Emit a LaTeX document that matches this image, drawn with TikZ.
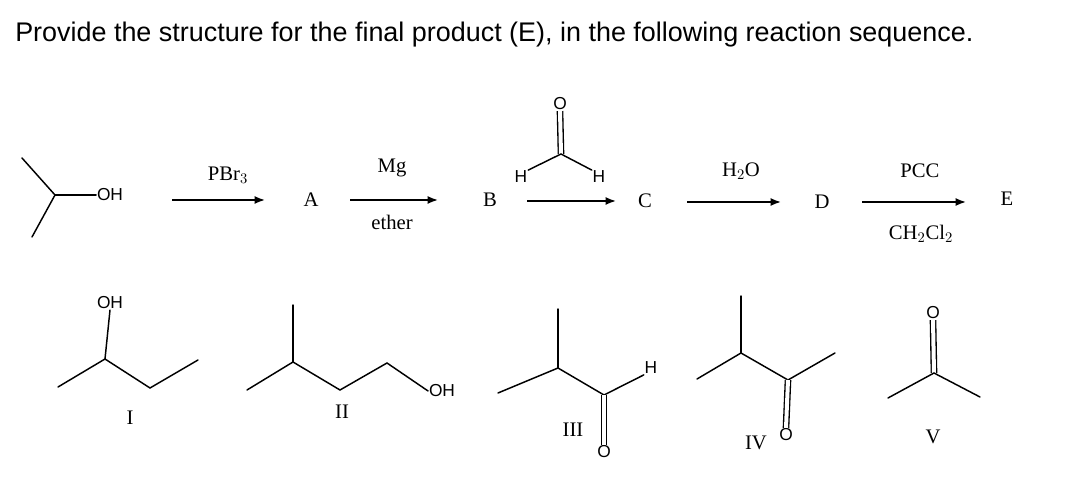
\documentclass[tikz,border=0pt]{standalone}
\usepackage{fontspec}
\setmainfont{Liberation Serif}
\newfontfamily\atomf{Liberation Sans}
\usetikzlibrary{arrows.meta}
\begin{document}
\begin{tikzpicture}[x=0.75pt,y=-0.75pt,
  bond/.style={line width=1.1pt,line cap=round},
  rxn/.style={line width=2.2pt,-{Latex[length=8pt,width=6pt]},shorten >=-1pt},
  atom/.style={inner sep=0.5pt,font=\atomf\fontsize{13}{15}\selectfont},
  lab/.style={inner sep=1pt,font=\fontsize{15.5}{18}\selectfont},
  dbl/.style={double,double distance=3pt,line width=1pt}]
\useasboundingbox (0,0) rectangle (1076,484);
\node[anchor=base west,inner sep=0,font=\atomf\fontsize{20.2}{24}\selectfont] (title) at (15,42) {Provide the structure for the final product (E), in the following reaction sequence.};
% starting alcohol
\coordinate (s1) at (22,158); \coordinate (sc) at (55,195); \coordinate (s2) at (32,237);
\node[atom] (soh) at (110,195) {OH};
\draw[bond] (s1)--(sc)--(s2); \draw[bond] (sc)--(soh.west);
% reaction line
\node[lab] (A) at (311,200) {A};
\node[lab] (B) at (490,200) {B};
\node[lab] (C) at (645,201) {C};
\node[lab] (D) at (822,202) {D};
\node[lab] (E) at (1007,199) {E};
\coordinate (a1s) at (172,200); \coordinate (a1e) at (264,200);
\draw[rxn] (a1s)--(a1e);
\node[lab] (pbr) at (228,175) {PBr$_3$};
\coordinate (a2s) at (350,200); \coordinate (a2e) at (437,200);
\draw[rxn] (a2s)--(a2e);
\node[lab] (mg) at (392,168) {Mg};
\node[lab] (eth) at (392,222) {ether};
\coordinate (a3s) at (527,201); \coordinate (a3e) at (615,201);
\draw[rxn] (a3s)--(a3e);
\node[atom] (fo) at (560,104) {O};
\coordinate (fc) at (561,154);
\node[atom] (fh1) at (521,177) {H};
\node[atom] (fh2) at (599,177) {H};
\draw[dbl] (fo.south)--(fc);
\draw[bond] (fh1.north east)--(fc)--(fh2.north west);
\coordinate (a4s) at (687,202); \coordinate (a4e) at (780,202);
\draw[rxn] (a4s)--(a4e);
\node[lab] (h2o) at (741,171) {H$_2$O};
\coordinate (a5s) at (862,202); \coordinate (a5e) at (965,202);
\draw[rxn] (a5s)--(a5e);
\node[lab] (pcc) at (920,171) {PCC};
\node[lab] (ch) at (921,234) {CH$_2$Cl$_2$};
% I
\node[atom] (ioh) at (110,303) {OH};
\coordinate (i1) at (58,387); \coordinate (i2) at (105,359); \coordinate (i3) at (150,388); \coordinate (i4) at (198,360);
\draw[bond] (ioh.south)--(i2); \draw[bond] (i1)--(i2)--(i3)--(i4);
\node[lab] (lI) at (130,418) {I};
% II
\coordinate (j0) at (293,305); \coordinate (j1) at (247,390); \coordinate (j2) at (293,362); \coordinate (j3) at (340,390); \coordinate (j4) at (387,363);
\node[atom] (joh) at (442,391) {OH};
\draw[bond] (j0)--(j2); \draw[bond] (j1)--(j2)--(j3)--(j4)--(joh.west);
\node[lab] (lII) at (342,412) {II};
% III
\coordinate (k1) at (498,393); \coordinate (k0) at (558,309); \coordinate (k2) at (558,368); \coordinate (k3) at (604,395);
\node[atom] (kh) at (651,368) {H}; \node[atom] (ko) at (604,452) {O};
\draw[bond] (k0)--(k2); \draw[bond] (k1)--(k2)--(k3)--(kh.south west);
\draw[dbl] (k3)--(ko.north);
\node[lab] (lIII) at (573,430) {III};
% IV
\coordinate (m0) at (741,296); \coordinate (m1) at (697,379); \coordinate (m2) at (741,353); \coordinate (m3) at (788,380); \coordinate (m4) at (835,353);
\node[atom] (mo) at (786,435) {O};
\draw[bond] (m0)--(m2); \draw[bond] (m1)--(m2)--(m3)--(m4);
\draw[dbl] (m3)--(mo.north);
\node[lab] (lIV) at (756,443) {IV};
% V
\node[atom] (vo) at (933,313) {O};
\coordinate (v1) at (888,398); \coordinate (v2) at (934,373); \coordinate (v3) at (980,397);
\draw[dbl] (vo.south)--(v2); \draw[bond] (v1)--(v2)--(v3);
\node[lab] (lV) at (933,437) {V};
\end{tikzpicture}
\end{document}
